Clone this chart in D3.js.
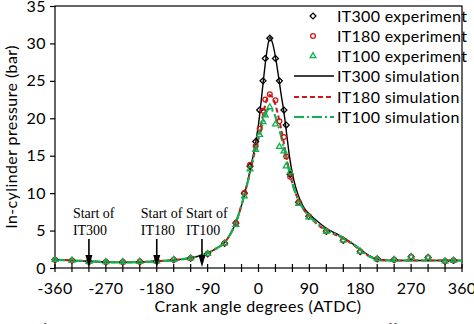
<!doctype html>
<html>
<head>
<meta charset="utf-8">
<style>
  body { margin: 0; background: #fff; }
  svg text { font-family: "Lato", "Open Sans", sans-serif; }
  .note { font-family: "Liberation Serif", "DejaVu Serif", serif; font-size: 14px; }
</style>
<script src="https://d3js.org/d3.v7.min.js"></script>
</head>
<body>
<svg id="svg" width="474" height="324"></svg>
<script>
// simulation angles (deg ATDC)
var simAngle = [-360,-330,-300,-270,-240,-210,-180,-150,-120,-90,-75,-60,-50,-40,-30,-20,-10,-5,0,5,10,15,20,25,30,35,40,45,50,55,60,65,70,80,90,100,120,140,160,180,195,210,225,240,270,300,330,360];
var it300Sim = [1.1,1.0,0.9,0.8,0.75,0.8,0.9,1.05,1.35,2.0,2.6,3.4,4.5,6.1,8.4,11.3,14.8,16.8,19.2,22.5,26.0,29.0,30.8,30.0,28.2,25.8,23.2,20.8,17.8,14.8,12.6,11.0,9.8,8.1,7.2,6.5,5.3,4.5,3.6,2.5,1.7,1.2,1.05,1.0,1.0,1.0,1.0,1.0];
var it180Sim = [1.1,1.0,0.9,0.8,0.75,0.8,0.9,1.05,1.35,2.0,2.6,3.4,4.5,6.1,8.4,11.2,14.5,16.0,17.5,19.3,21.2,22.6,23.1,22.8,21.8,20.3,18.6,16.6,14.6,12.8,11.3,10.1,9.2,7.8,6.9,6.1,5.0,4.3,3.5,2.4,1.6,1.15,1.0,1.0,1.0,1.0,1.0,1.0];
var it100Sim = [1.1,1.0,0.9,0.8,0.75,0.8,0.9,1.05,1.35,2.0,2.6,3.4,4.5,6.1,8.4,11.2,14.4,15.8,17.2,18.6,20.0,21.0,21.3,21.0,20.2,19.0,17.6,16.0,14.3,12.7,11.3,10.1,9.2,7.8,6.9,6.2,5.1,4.4,3.6,2.5,1.6,1.15,1.0,1.0,1.0,1.0,1.0,1.0];

// experiment points
var expAngle = [-360,-330,-300,-270,-240,-210,-180,-150,-120,-90,-60,-40,-25,-15,-5,2,8,12,20,30,37,45,49,56,71,89,120,150,180,210,240,270,300,330,345];
var it300Exp = [1.1,1.0,0.85,0.8,0.8,0.85,0.9,1.1,1.3,1.9,3.3,6.0,10.0,13.6,16.9,21.1,25.0,28.0,30.7,28.0,25.0,21.1,19.1,12.5,8.8,6.9,4.9,3.7,2.2,1.2,1.1,1.5,1.4,0.9,1.0];
var it180Exp = [1.1,1.0,0.85,0.8,0.8,0.85,0.9,1.1,1.3,1.9,3.3,6.0,10.0,13.8,16.3,18.6,21.0,22.5,23.2,22.4,19.6,17.5,14.9,12.2,8.8,6.9,4.9,3.7,2.2,1.2,1.1,1.5,1.4,0.9,1.0];
var it100Exp = [1.1,1.0,0.85,0.8,0.8,0.85,0.9,1.1,1.3,1.9,3.3,5.8,9.6,13.2,15.8,17.8,19.5,20.4,21.5,19.2,16.2,15.6,13.6,12.8,8.6,6.8,4.9,3.7,2.2,1.2,1.1,1.5,1.4,0.9,1.0];

var xTicks = [-360,-270,-180,-90,0,90,180,270,360];
var yTicks = [0,5,10,15,20,25,30,35];

var starts = [
  { label: "IT300", at: -300 },
  { label: "IT180", at: -180 },
  { label: "IT100", at: -100 }
];

var black = "#000000", red = "#d01818", green = "#12b050";

var svg = d3.select("#svg");
var pLeft = 55, pRight = 462, pTop = 6, pBottom = 268;

var x = d3.scaleLinear().domain([-360, 360]).range([pLeft, pRight]);
var y = d3.scaleLinear().domain([0, 35]).range([pBottom, pTop]);

// frame
svg.append("rect")
  .attr("x", pLeft).attr("y", pTop)
  .attr("width", pRight - pLeft).attr("height", pBottom - pTop)
  .attr("fill", "none").attr("stroke", "#000").attr("stroke-width", 1.2);

// x axis with crossing ticks every 30 deg
var xa = svg.append("g").attr("transform", "translate(0," + pBottom + ")");
xa.selectAll("line.t").data(d3.range(-360, 361, 30)).enter().append("line")
  .attr("x1", function(d) { return x(d); }).attr("x2", function(d) { return x(d); })
  .attr("y1", -4).attr("y2", 4)
  .attr("stroke", "#000").attr("stroke-width", 1.2);
xa.selectAll("text").data(xTicks).enter().append("text")
  .attr("x", function(d) { return x(d); })
  .attr("y", 26)
  .attr("text-anchor", "middle")
  .attr("font-size", 16)
  .attr("letter-spacing", 0.3)
  .text(function(d) { return d; });

var ya = svg.append("g").attr("transform", "translate(" + pLeft + ",0)")
  .call(d3.axisLeft(y).tickValues(yTicks).tickSize(5).tickPadding(4));
ya.select(".domain").remove();
ya.selectAll("line").attr("stroke-width", 1.2);
ya.selectAll("text").attr("font-size", 16).attr("font-family", "Lato").attr("fill", "#000").attr("letter-spacing", 0.5);

svg.append("text")
  .attr("x", 258).attr("y", 312)
  .attr("text-anchor", "middle")
  .attr("font-size", 16)
  .attr("letter-spacing", 0.4)
  .text("Crank angle degrees (ATDC)");

svg.append("text")
  .attr("transform", "translate(17,137) rotate(-90)")
  .attr("text-anchor", "middle")
  .attr("font-size", 16)
  .attr("letter-spacing", 0.4)
  .text("In-cylinder pressure (bar)");

// caption cut at the bottom
svg.append("text")
  .attr("class", "note")
  .attr("x", -2).attr("y", 334)
  .attr("font-size", 15)
  .attr("letter-spacing", 0.6)
  .text("ssure of experiment and numerical in-cylinder pressure with different");

// simulation lines
var line = d3.line()
  .x(function(d) { return x(d[0]); })
  .y(function(d) { return y(d[1]); })
  .curve(d3.curveMonotoneX);

function pairs(a, v) { return a.map(function(d, i) { return [d, v[i]]; }); }

svg.append("path").datum(pairs(simAngle, it300Sim))
  .attr("d", line).attr("fill", "none")
  .attr("stroke", black).attr("stroke-width", 1.4);
svg.append("path").datum(pairs(simAngle, it180Sim))
  .attr("d", line).attr("fill", "none")
  .attr("stroke", red).attr("stroke-width", 2)
  .attr("stroke-dasharray", "5,3");
svg.append("path").datum(pairs(simAngle, it100Sim))
  .attr("d", line).attr("fill", "none")
  .attr("stroke", green).attr("stroke-width", 2.2)
  .attr("stroke-dasharray", "10,3,2,3");

// experiment markers
var diamond = d3.symbol().type(d3.symbolDiamond2).size(22);
var circle = d3.symbol().type(d3.symbolCircle).size(18);
var tri = d3.symbol().type(d3.symbolTriangle2).size(24);

function markers(vals, sym, col) {
  svg.append("g").selectAll("path").data(pairs(expAngle, vals)).enter().append("path")
    .attr("transform", function(d) { return "translate(" + x(d[0]) + "," + y(d[1]) + ")"; })
    .attr("d", sym)
    .attr("fill", "none").attr("stroke", col).attr("stroke-width", 1.3);
}
markers(it300Exp, diamond, black);
markers(it180Exp, circle, red);
markers(it100Exp, tri, green);

// start of injection notes with arrows
starts.forEach(function(s) {
  var ax = x(s.at);
  svg.append("text").attr("class", "note").attr("x", ax - 16).attr("y", 218).text("Start of");
  svg.append("text").attr("class", "note").attr("x", ax - 16).attr("y", 235).text(s.label);
  svg.append("line")
    .attr("x1", ax).attr("x2", ax).attr("y1", 239).attr("y2", 258)
    .attr("stroke", "#000").attr("stroke-width", 1.6);
  svg.append("path")
    .attr("d", "M" + (ax - 3.5) + ",255L" + (ax + 3.5) + ",255L" + ax + ",267Z")
    .attr("fill", "#000");
});

// legend
var lg = svg.append("g");
var lx = 313, tx = 337;
var rows = [16, 36, 56, 76, 97, 117];
lg.append("path").attr("transform", "translate(" + lx + "," + rows[0] + ")").attr("d", diamond)
  .attr("fill", "none").attr("stroke", black).attr("stroke-width", 1.3);
lg.append("path").attr("transform", "translate(" + lx + "," + rows[1] + ")").attr("d", circle)
  .attr("fill", "none").attr("stroke", red).attr("stroke-width", 1.3);
lg.append("path").attr("transform", "translate(" + lx + "," + rows[2] + ")").attr("d", tri)
  .attr("fill", "none").attr("stroke", green).attr("stroke-width", 1.3);
lg.append("line").attr("x1", 294).attr("x2", 334).attr("y1", rows[3]).attr("y2", rows[3])
  .attr("stroke", black).attr("stroke-width", 1.4);
lg.append("line").attr("x1", 294).attr("x2", 334).attr("y1", rows[4]).attr("y2", rows[4])
  .attr("stroke", red).attr("stroke-width", 2).attr("stroke-dasharray", "5,3");
lg.append("line").attr("x1", 294).attr("x2", 334).attr("y1", rows[5]).attr("y2", rows[5])
  .attr("stroke", green).attr("stroke-width", 2.2).attr("stroke-dasharray", "10,3,2,3");
var names = ["IT300 experiment","IT180 experiment","IT100 experiment","IT300 simulation","IT180 simulation","IT100 simulation"];
lg.selectAll("text").data(names).enter().append("text")
  .attr("x", tx).attr("y", function(d, i) { return rows[i] + 6; })
  .attr("font-size", 16)
  .attr("letter-spacing", 0.3)
  .text(function(d) { return d; });
</script>
</body>
</html>
